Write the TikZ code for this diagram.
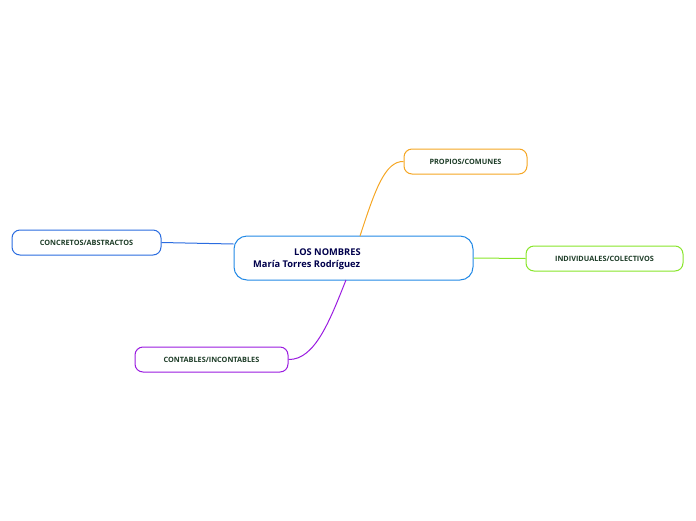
\documentclass[tikz,border=0pt]{standalone}
\usepackage{fontspec}
\setmainfont{Open Sans}
\definecolor{pur}{HTML}{9A1BE0}
\definecolor{grn}{HTML}{88E62A}
\definecolor{blu}{HTML}{2A6CE0}
\definecolor{org}{HTML}{F5A623}
\definecolor{txt}{HTML}{1E3D28}
\begin{document}
\begin{tikzpicture}[x=1pt,y=-1pt,
 leaf/.style={draw,rounded corners=8pt,line width=1pt,minimum height=25pt,inner sep=0pt,font=\bfseries\fontsize{7.3}{9}\selectfont,text=txt,fill=white},
 link/.style={line width=1pt}]
\useasboundingbox (0,0) rectangle (696,520);
\node[draw=blu!80!cyan,rounded corners=13pt,line width=1pt,minimum width=239pt,minimum height=44pt,fill=white] (c) at (353.5,258) {};
\node[align=left,font=\bfseries\fontsize{9.3}{12}\selectfont,text=blue!30!black,anchor=west,inner sep=0pt] (ct) at (253,259.5) {\hspace*{41pt}LOS NOMBRES\\María Torres Rodríguez};
\node[leaf,draw=org,minimum width=123pt] (p) at (465.5,161.5) {PROPIOS/COMUNES};
\node[leaf,draw=grn,minimum width=157pt] (i) at (604.5,258.5) {INDIVIDUALES/COLECTIVOS};
\node[leaf,draw=blu,minimum width=149pt] (a) at (86.5,242.5) {CONCRETOS/ABSTRACTOS};
\node[leaf,draw=pur,minimum width=153pt] (n) at (211.5,359.5) {CONTABLES/INCONTABLES};
\draw[link,org] (360,236) .. controls (375,190) and (385,161) .. (p.west);
\draw[link,grn] (c.east) -- (i.west);
\draw[link,blu] (c.west|-0,244) -- (a.east);
\draw[link,pur] (346,280) .. controls (330,320) and (315,360) .. (n.east);
\end{tikzpicture}
\end{document}
